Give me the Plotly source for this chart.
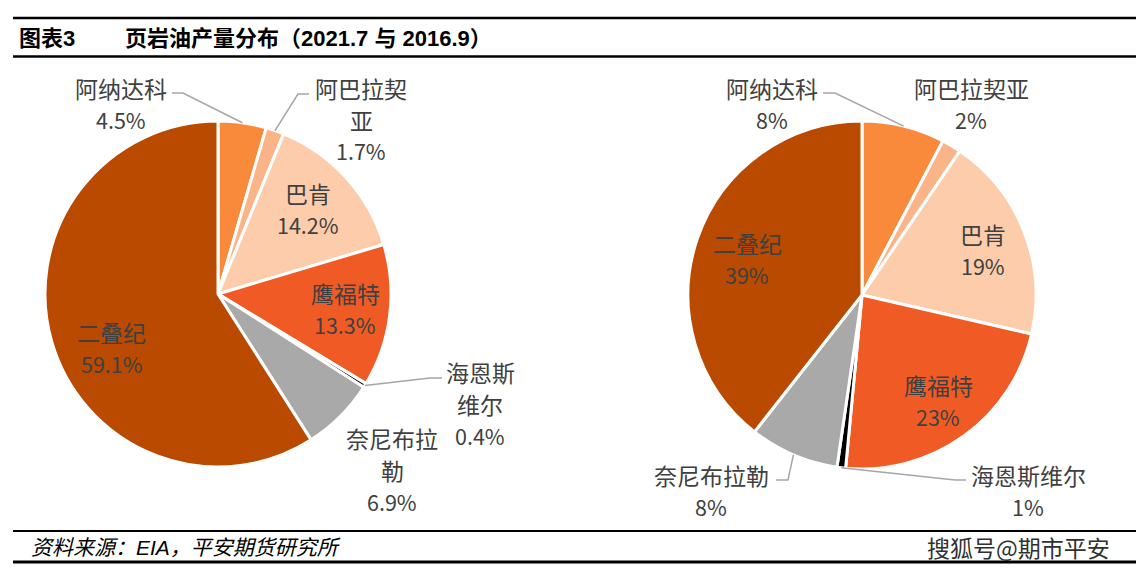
import math
import plotly.graph_objects as go

W, H = 1136, 572

# ---------------- data ----------------
basins = ["阿纳达科", "阿巴拉契亚", "巴肯", "鹰福特", "海恩斯维尔", "奈尼布拉勒", "二叠纪"]
share_2021_7 = [4.5, 1.7, 14.2, 13.3, 0.4, 6.9, 59.1]
share_2016_9 = [7.7, 1.8, 19.1, 22.9, 0.8, 8.3, 39.4]

title_tag = "图表3"
title_text = "页岩油产量分布（2021.7 与 2016.9）"
source_text = "资料来源：EIA，平安期货研究所"
watermark = "搜狐号@期市平安"

# ---------------- styles ----------------
colors = ["#FA8A3B", "#FBB488", "#FDCCAA", "#F05B25", "#000000", "#A9A9A9", "#B94A00"]
FONT = "Noto Sans CJK SC, Microsoft YaHei, sans-serif"
TXT = "#404040"
LINE_C = "#A6A6A6"
NAME_SIZE = 23
PCT_SIZE = 21.5

# pie geometry (pixels): centre x, centre y, radius
geo_left = (218, 294, 173)
geo_right = (862, 295, 174)

# label layout for each pie: name-line-split, first line centre (px), leader polyline tail (px)
lab_left = {
    "阿纳达科": (["阿纳达科"], 121, 88, [(183, 93), (172, 93)]),
    "阿巴拉契亚": (["阿巴拉契", "亚"], 361, 88, [(298, 94), (309, 94)]),
    "巴肯": (["巴肯"], 308, 193, None),
    "鹰福特": (["鹰福特"], 345, 293, None),
    "海恩斯维尔": (["海恩斯", "维尔"], 480, 372, [(430, 378), (442, 378)]),
    "奈尼布拉勒": (["奈尼布拉", "勒"], 392, 438, None),
    "二叠纪": (["二叠纪"], 112, 332, None),
}
lab_right = {
    "阿纳达科": (["阿纳达科"], 772, 88, [(835, 93), (823, 93)]),
    "阿巴拉契亚": (["阿巴拉契亚"], 971, 88, None),
    "巴肯": (["巴肯"], 983, 234, None),
    "鹰福特": (["鹰福特"], 938, 385, None),
    "海恩斯维尔": (["海恩斯维尔"], 1028, 475, [(955, 480), (966, 480)]),
    "奈尼布拉勒": (["奈尼布拉勒"], 711, 475, [(788, 480), (776, 480)]),
    "二叠纪": (["二叠纪"], 747, 243, None),
}
LINE_GAP = 31.5


def px(x):
    return x / W


def py(y):
    return 1 - y / H


fig = go.Figure()
annotations = []
shapes = []


def add_pie(values, geo, labs, fmt):
    cx, cy, r = geo
    fig.add_trace(go.Pie(
        labels=basins, values=values, sort=False, direction="clockwise", rotation=0,
        marker=dict(colors=colors, line=dict(color="white", width=3)),
        textinfo="none", hoverinfo="label+percent", showlegend=False,
        domain=dict(x=[px(cx - r), px(cx + r)], y=[py(cy + r), py(cy - r)]),
    ))
    total = sum(values)
    cum = 0.0
    for name, v in zip(basins, values):
        mid = (cum + v / 2) / total * 2 * math.pi
        cum += v
        lines, lx, ly, tail = labs[name]
        texts = [(t, NAME_SIZE) for t in lines] + [(fmt.format(v), PCT_SIZE)]
        for i, (t, sz) in enumerate(texts):
            annotations.append(dict(
                x=px(lx), y=py(ly + i * LINE_GAP), xref="paper", yref="paper",
                text=t, showarrow=False, xanchor="center", yanchor="middle",
                font=dict(family=FONT, size=sz, color=TXT)))
        if tail:
            ex = cx + r * math.sin(mid)
            ey = cy - r * math.cos(mid)
            pts = [(ex, ey)] + tail
            path = "M " + " L ".join(f"{px(a):.5f},{py(b):.5f}" for a, b in pts)
            shapes.append(dict(type="path", path=path, xref="paper", yref="paper",
                               line=dict(color=LINE_C, width=1.5)))


add_pie(share_2021_7, geo_left, lab_left, "{:.1f}%")
add_pie(share_2016_9, geo_right, lab_right, "{:.0f}%")

# header / footer rules
for y, w in [(18, 2.5), (56.5, 2.5), (531, 2), (562, 3)]:
    shapes.append(dict(type="line", xref="paper", yref="paper",
                       x0=px(13), x1=1, y0=py(y), y1=py(y),
                       line=dict(color="black", width=w)))

annotations.append(dict(x=px(17), y=py(38), xref="paper", yref="paper", text=f"<b>{title_tag}</b>",
                        showarrow=False, xanchor="left", yanchor="middle",
                        font=dict(family="Liberation Sans, Noto Sans CJK SC", size=22, color="black")))
annotations.append(dict(x=px(123), y=py(38), xref="paper", yref="paper", text=f"<b>{title_text}</b>",
                        showarrow=False, xanchor="left", yanchor="middle",
                        font=dict(family="Liberation Sans, Noto Sans CJK SC", size=22, color="black")))
annotations.append(dict(x=px(29), y=py(547), xref="paper", yref="paper", text=f"<i>{source_text}</i>",
                        showarrow=False, xanchor="left", yanchor="middle",
                        font=dict(family="Liberation Sans, Noto Sans CJK SC", size=21, color="black")))
annotations.append(dict(x=px(1112), y=py(547), xref="paper", yref="paper", text=watermark,
                        showarrow=False, xanchor="right", yanchor="middle",
                        font=dict(family=FONT, size=23, color="#303030")))

fig.update_layout(
    width=W, height=H, autosize=False,
    margin=dict(l=0, r=0, t=0, b=0),
    paper_bgcolor="white", plot_bgcolor="white",
    annotations=annotations, shapes=shapes,
)

fig.write_html("out.html", config={"displayModeBar": False})
